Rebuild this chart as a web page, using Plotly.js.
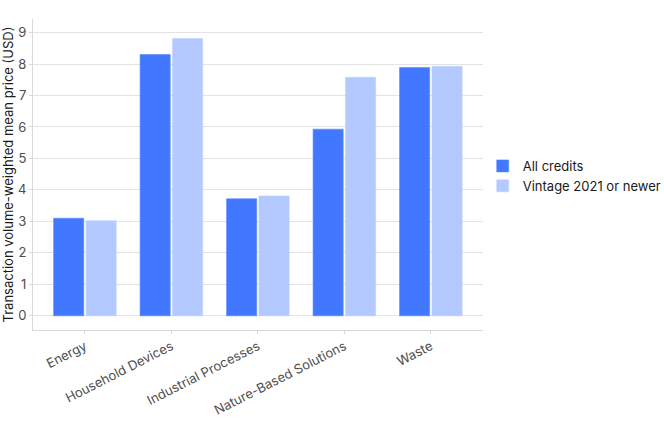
<!DOCTYPE html>
<html>
<head>
<meta charset="utf-8">
<script src="https://cdn.plot.ly/plotly-3.0.1.min.js"></script>
<style>html,body{margin:0;padding:0;background:#fff;}#chart{width:664px;height:423px;}</style>
</head>
<body>
<div id="chart"></div>
<script>
const categories = ["Energy", "Household Devices", "Industrial Processes", "Nature-Based Solutions", "Waste"];
const allCredits = [3.10, 8.30, 3.72, 5.93, 7.89];
const vintage2021 = [3.02, 8.81, 3.81, 7.58, 7.93];
const seriesNames = ["All credits", "Vintage 2021 or newer"];
const yTicks = [0, 1, 2, 3, 4, 5, 6, 7, 8, 9];

const traces = [
  {type: "bar", name: seriesNames[0], x: categories, y: allCredits,
   marker: {color: "#4178FF", line: {color: "#5a8aff", width: 0.6}}, hoverinfo: "x+y"},
  {type: "bar", name: seriesNames[1], x: categories, y: vintage2021,
   marker: {color: "#B3C9FF", line: {color: "#bed1ff", width: 0.6}}, hoverinfo: "x+y"}
];

const layout = {
  width: 664, height: 423,
  margin: {l: 33, r: 179, t: 19, b: 93},
  paper_bgcolor: "#ffffff", plot_bgcolor: "#ffffff",
  font: {family: "Inter, 'Noto Sans', sans-serif", size: 13, color: "#4d4d4d"},
  barmode: "group", bargap: 0.25, bargroupgap: 0.07,
  showlegend: true,
  legend: {xref: "container", yref: "container", x: 0.727, xanchor: "left", y: 0.584, yanchor: "middle",
           font: {size: 13, color: "#1a1a1a"}, itemwidth: 30, tracegroupgap: 0,
           bgcolor: "rgba(0,0,0,0)"},
  xaxis: {
    type: "category", range: [-0.6, 4.6], tickangle: -27,
    showline: true, linecolor: "#d9d9d9", linewidth: 1, mirror: false,
    ticks: "outside", ticklen: 3, tickcolor: "#d9d9d9",
    showgrid: false, zeroline: false,
    tickfont: {size: 13, color: "#4d4d4d"}
  },
  yaxis: {
    range: [-0.45, 9.43], tickvals: yTicks, ticktext: yTicks.map(String),
    showline: true, linecolor: "#d9d9d9", linewidth: 1,
    ticks: "outside", ticklen: 3, tickcolor: "#d9d9d9",
    showgrid: true, gridcolor: "#e3e3e3", gridwidth: 1, zeroline: false,
    tickfont: {size: 13, color: "#4d4d4d"},
    title: {text: "Transaction volume-weighted mean price (USD)", font: {size: 13, color: "#1a1a1a"}, standoff: 6}
  }
};

Plotly.newPlot("chart", traces, layout, {displayModeBar: false, staticPlot: true});
</script>
</body>
</html>
